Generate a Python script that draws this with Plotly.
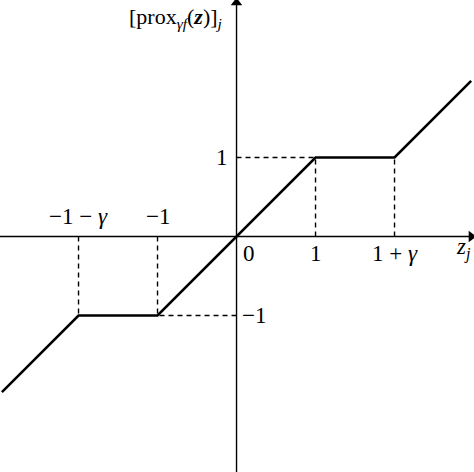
import plotly.graph_objects as go

# gamma (knees at 1 and 1+gamma look one unit apart)
gamma = 1.0

# piecewise prox curve, knots
z_vals = [-2.97, -1 - gamma, -1.0, 0.0, 1.0, 1 + gamma, 2.97]
prox_vals = [-1.97, -1.0, -1.0, 0.0, 1.0, 1.0, 1.97]

# tick labels
x_tick_above = [-1 - gamma, -1.0]
x_tick_above_text = ["\u22121 \u2212 <i>\u03b3</i>", "\u22121"]
x_tick_below = [1.0, 1 + gamma]
x_tick_below_text = ["1", "1 + <i>\u03b3</i>"]
y_tick_vals = [1.0, -1.0]
y_tick_text = ["1", "\u22121"]

FONT = "Liberation Serif"
x_lo, x_hi = -2.994, 3.006
y_lo, y_hi = -2.981, 2.994
x_tip, y_tip = 2.97, 2.96

fig = go.Figure()

# dashed guide lines from the knees to the axes
guide = dict(color="black", width=1.4, dash="5px,4px")
for zk, pk in [(1.0, 1.0), (1 + gamma, 1.0), (-1.0, -1.0), (-1 - gamma, -1.0)]:
    fig.add_shape(type="line", x0=zk, y0=0, x1=zk, y1=pk, line=guide)
for zk, pk in [(1.0, 1.0), (-1.0, -1.0)]:
    fig.add_shape(type="line", x0=0, y0=pk, x1=zk, y1=pk, line=guide)

# axes
fig.add_shape(type="line", x0=x_lo, y0=0, x1=x_tip, y1=0,
              line=dict(color="black", width=1.4))
fig.add_shape(type="line", x0=0, y0=y_lo, x1=0, y1=y_tip,
              line=dict(color="black", width=1.4))
fig.add_trace(go.Scatter(x=[x_tip], y=[0], mode="markers",
                         marker=dict(symbol="triangle-right", size=10, color="black"),
                         hoverinfo="skip", showlegend=False))
fig.add_trace(go.Scatter(x=[0], y=[y_tip], mode="markers",
                         marker=dict(symbol="triangle-up", size=10, color="black"),
                         hoverinfo="skip", showlegend=False))

fig.add_trace(go.Scatter(x=z_vals, y=prox_vals, mode="lines",
                         line=dict(color="black", width=2.6),
                         hoverinfo="skip", showlegend=False))

tf = dict(family=FONT, size=23, color="black")

for xv, t in zip(x_tick_above, x_tick_above_text):
    fig.add_annotation(x=xv, y=0.25, text=t, showarrow=False, font=tf)
for xv, t in zip(x_tick_below, x_tick_below_text):
    fig.add_annotation(x=xv, y=-0.22, text=t, showarrow=False, font=tf)
fig.add_annotation(x=0.16, y=-0.22, text="0", showarrow=False, font=tf)

fig.add_annotation(x=-0.08, y=y_tick_vals[0], text=y_tick_text[0], showarrow=False,
                   font=tf, xanchor="right")
fig.add_annotation(x=0.04, y=y_tick_vals[1], text=y_tick_text[1], showarrow=False,
                   font=tf, xanchor="left")

# axis titles
fig.add_annotation(x=-0.16, y=2.77, xanchor="right",
                   text="[prox<sub><i>\u03b3f</i></sub>(<b><i>z</i></b>)]<sub><i>j</i></sub>",
                   showarrow=False, font=dict(family=FONT, size=22, color="black"))
fig.add_annotation(x=2.99, y=-0.15, xanchor="right", text="<i>z<sub>j</sub></i>",
                   showarrow=False, font=tf)

fig.update_xaxes(range=[x_lo, x_hi], visible=False)
fig.update_yaxes(range=[y_lo, y_hi], visible=False)
fig.update_layout(width=474, height=472, autosize=False,
                  margin=dict(l=0, r=0, t=0, b=0),
                  plot_bgcolor="white", paper_bgcolor="white")

fig.write_html("out.html", config={"displayModeBar": False},
               post_script="document.body.style.margin='0';")
